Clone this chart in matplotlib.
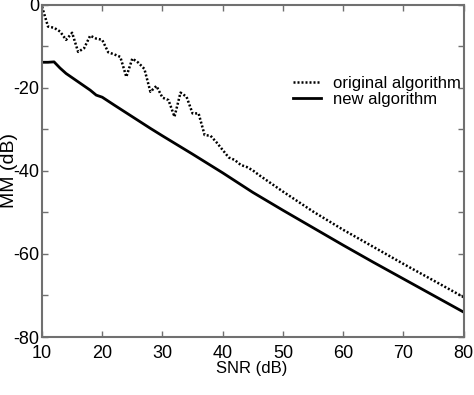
import matplotlib
matplotlib.use("Agg")
import matplotlib.pyplot as plt

snr_orig = [10, 11, 12, 13, 14, 15, 16, 17, 18, 19, 20, 21, 22, 23, 24, 25,
            26, 27, 28, 29, 30, 31, 32, 33, 34, 35, 36, 37, 38, 39, 40, 41,
            42, 43, 44, 45, 46, 47, 48, 50, 55, 60, 65, 70, 75, 80]
mm_orig = [-0.5, -5.3, -5.6, -6.5, -8.5, -6.8, -11.4, -10.5, -7.5, -8.2,
           -8.5, -11.5, -12.0, -12.6, -17.4, -13.0, -14.0, -15.5, -21.0,
           -19.6, -22.4, -23.0, -27.0, -21.2, -22.2, -26.2, -26.2, -31.4,
           -31.6, -33.2, -35.0, -36.8, -37.4, -38.6, -39.1, -39.9, -41.0,
           -42.0, -43.0, -45.0, -49.8, -54.2, -58.3, -62.4, -66.4, -70.4]

snr_new = [10, 11, 12, 13, 14, 15, 16, 17, 18, 19, 20, 22, 25, 28, 30, 35,
           40, 45, 50, 55, 60, 65, 70, 75, 80]
mm_new = [-13.9, -13.9, -13.8, -15.3, -16.6, -17.6, -18.6, -19.6, -20.6,
          -21.8, -22.3, -24.2, -27.0, -29.8, -31.6, -36.0, -40.5, -45.2,
          -49.5, -53.7, -57.9, -62.0, -66.0, -70.0, -74.0]

labels = ["original algorithm", "new algorithm"]
xticks = [10, 20, 30, 40, 50, 60, 70, 80]
yticks = [-80, -70, -60, -50, -40, -30, -20, -10, 0]

plt.rcParams["font.family"] = ["Liberation Sans", "DejaVu Sans"]

fig = plt.figure(figsize=(4.74, 3.95), dpi=100)
ax = fig.add_axes([0.0886, 0.1468, 0.8894, 0.8418])

ax.plot(snr_orig, mm_orig, color="black", lw=1.8, ls=(0, (0.8, 0.8)),
        label=labels[0])
ax.plot(snr_new, mm_new, color="black", lw=2.0, label=labels[1])

ax.set_xlim(10, 80)
ax.set_ylim(-80, 0)
ax.set_xticks(xticks)
ax.set_yticks(yticks)
ax.set_yticklabels([str(v) if v % 20 == 0 else "" for v in yticks])

ax.tick_params(direction="in", length=4, width=1, color="#707070",
               top=True, right=True, labelsize=13)
ax.tick_params(axis="x", pad=5.5)
ax.tick_params(axis="y", pad=2)
for s in ax.spines.values():
    s.set_color("#707070")
    s.set_linewidth(1.5)

ax.set_xlabel("SNR (dB)", fontsize=12)
ax.set_ylabel("MM (dB)", fontsize=14)
ax.xaxis.set_label_coords(0.497, -0.072)
ax.yaxis.set_label_coords(-0.057, 0.5)

ax.legend(loc="upper left", bbox_to_anchor=(0.595, 0.785), frameon=False,
          fontsize=12, borderpad=0, borderaxespad=0, handlelength=1.7,
          handletextpad=0.72, labelspacing=0.06)

fig.savefig("out.png", dpi=100)
